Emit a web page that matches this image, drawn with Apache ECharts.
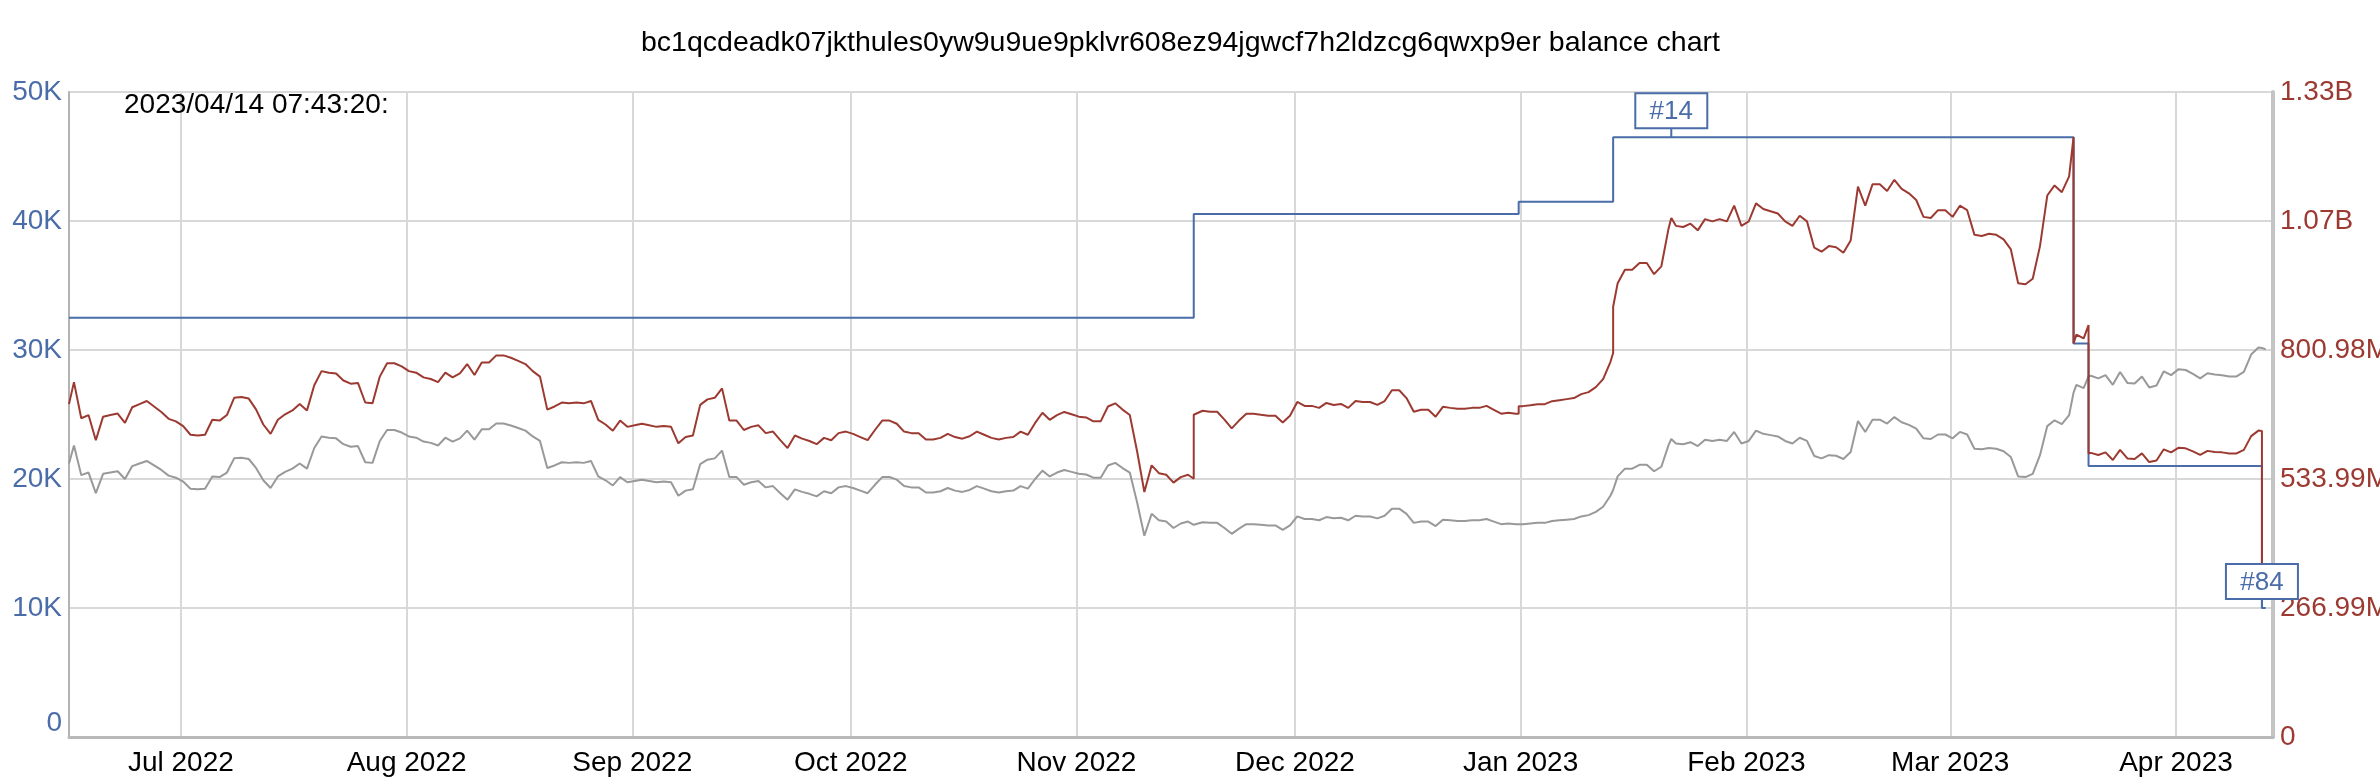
<!DOCTYPE html>
<html>
<head>
<meta charset="utf-8">
<script src="https://cdn.jsdelivr.net/npm/echarts@6/dist/echarts.min.js"></script>
<style>
html,body{margin:0;padding:0;background:#fff;overflow:hidden;}
#chart{width:2380px;height:778px;}
</style>
</head>
<body>
<div id="chart"></div>
<script>
// ---------------- DATA ----------------
const TITLE = 'bc1qcdeadk07jkthules0yw9u9ue9pklvr608ez94jgwcf7h2ldzcg6qwxp9er balance chart';
const STAMP = '2023/04/14 07:43:20:';
const MONTHS = ['Jan','Feb','Mar','Apr','May','Jun','Jul','Aug','Sep','Oct','Nov','Dec'];
const AXIS_MIN = '2022-06-15 15:20';
const AXIS_MAX = '2023-04-14 07:43:20';
const FIRST_DAY = '2022-06-16 07:43:20';   // daily samples start here, one per day

// left axis (balance / price, thousands)
const leftTicks = [0, 10, 20, 30, 40, 50];
// right axis (USD value, millions)
const rightTicks = [0, 266.993, 533.986, 800.979, 1067.972, 1334.965];

// BTC price, K USD, daily 2022-06-16 .. 2023-04-13 (grey line)
const priceDays = [
  22.6,20.3,20.5,18.9,20.4,20.5,20.6,20.0,21.0,21.2,21.4,21.05,20.7,20.26,20.1,
  19.8,19.25,19.2,19.25,20.2,20.15,20.5,21.6,21.65,21.55,20.86,19.9,19.3,20.2,20.55,20.8,21.2,20.8,22.4,23.3,23.2,23.15,22.7,22.5,22.55,21.3,21.25,22.95,23.8,23.8,23.6,
  23.3,23.2,22.9,22.8,22.6,23.2,22.9,23.15,23.75,23.05,23.85,23.85,24.3,24.3,24.15,23.95,23.75,23.3,22.95,20.85,21.05,21.3,21.25,21.3,21.25,21.4,20.2,19.9,19.5,20.15,19.75,
  19.85,19.95,19.85,19.75,19.8,19.75,18.7,19.1,19.2,21.15,21.5,21.6,22.2,20.15,20.15,19.55,19.75,19.85,19.35,19.45,18.9,18.4,19.2,19.0,18.85,18.65,19.05,18.9,19.35,19.45,
  19.3,19.1,18.9,19.55,20.15,20.15,19.95,19.45,19.35,19.35,18.95,18.95,19.05,19.3,19.1,19.0,19.15,19.45,19.25,19.05,18.95,19.05,19.1,19.45,19.25,20.0,20.65,20.2,20.5,20.7,20.55,
  20.4,20.35,20.1,20.1,21.05,21.25,20.85,20.5,18.2,15.6,17.3,16.8,16.7,16.2,16.55,16.7,16.4,16.65,16.6,16.6,16.2,15.75,16.15,16.5,16.5,16.45,16.4,16.4,16.05,16.4,
  17.1,16.9,16.9,16.8,17.05,16.95,17.0,16.8,17.15,17.1,17.1,16.95,17.15,17.7,17.7,17.3,16.6,16.7,16.7,16.35,16.85,16.8,16.75,16.75,16.8,16.8,16.9,16.7,16.5,16.55,16.5,
  16.5,16.55,16.6,16.6,16.75,16.8,16.85,16.9,17.1,17.2,17.45,17.85,18.7,20.2,20.8,20.8,21.1,21.1,20.6,20.95,22.65,22.75,22.7,22.85,22.55,23.05,22.95,23.05,22.95,23.65,22.75,
  22.95,23.75,23.5,23.4,23.3,22.95,22.75,23.2,22.95,21.78,21.6,21.85,21.8,21.55,22.1,24.5,23.65,24.6,24.6,24.3,24.8,24.4,24.2,23.9,23.15,23.1,23.45,23.45,
  23.15,23.65,23.45,22.35,22.3,22.4,22.35,22.15,21.7,20.2,20.15,20.4,21.85,24.1,24.55,24.25,24.95,27.3,27.05,28.0,27.8,28.05,27.3,28.3,27.45,27.4,27.95,27.1,27.25,28.35,28.05,
  28.5,28.45,28.15,27.8,28.2,28.1,28.05,27.95,27.95,28.3,29.65,30.2,30.05
];

// USD value of the balance, M USD, daily 2022-06-16 .. 2023-04-13 (red line)
const valueDays = [
  734.5,659.8,666.3,614.3,663.0,666.3,669.5,650.0,682.5,689.0,695.5,684.1,672.8,658.5,653.3,
  643.5,625.6,624.0,625.6,656.5,654.9,666.3,702.0,703.6,700.4,678.0,646.8,627.3,656.5,667.9,676.0,689.0,676.0,728.0,757.3,754.0,752.4,737.8,731.3,732.9,692.3,690.6,745.9,773.5,773.5,767.0,
  757.3,754.0,744.3,741.0,734.5,754.0,744.3,752.4,771.9,749.1,775.1,775.1,789.8,789.8,784.9,778.4,771.9,757.3,745.9,677.6,684.1,692.3,690.6,692.3,690.6,695.5,656.5,646.8,633.8,654.9,641.9,
  645.1,648.4,645.1,641.9,643.5,641.9,607.8,620.8,624.0,687.4,698.8,702.0,721.5,654.9,654.9,635.4,641.9,645.1,628.9,632.1,614.3,598.0,624.0,617.5,612.6,606.1,619.1,614.3,628.9,632.1,
  627.3,620.8,614.3,635.4,654.9,654.9,648.4,632.1,628.9,628.9,615.9,615.9,619.1,627.3,620.8,617.5,622.4,632.1,625.6,619.1,615.9,619.1,620.8,632.1,625.6,650.0,671.1,656.5,666.3,672.8,667.9,
  663.0,661.4,653.3,653.3,684.1,690.6,677.6,666.3,591.5,507.0,562.3,546.0,542.8,526.5,537.9,542.8,665.0,675.2,673.1,673.1,656.9,638.7,654.9,669.1,669.1,667.0,665.0,665.0,650.8,665.0,
  693.4,685.3,685.3,681.2,691.4,687.3,689.4,681.2,695.4,693.4,693.4,687.3,695.4,717.7,717.7,701.5,673.1,677.2,677.2,663.0,683.3,681.2,679.2,679.2,681.2,681.2,685.3,677.2,669.1,671.1,669.1,
  684.8,686.8,688.9,688.9,695.1,697.2,699.3,701.4,709.7,713.8,724.2,740.8,776.1,939.3,967.2,967.2,981.2,981.2,957.9,974.2,1053.2,1057.9,1055.6,1062.5,1048.6,1071.8,1067.2,1071.8,1067.2,1099.7,1057.9,
  1067.2,1104.4,1092.8,1088.1,1083.5,1067.2,1057.9,1078.8,1067.2,1012.8,1004.4,1016.0,1013.7,1002.1,1027.7,1139.3,1099.7,1143.9,1143.9,1130.0,1153.2,1134.6,1125.3,1111.4,1076.5,1074.2,1090.4,1090.4,
  1076.5,1099.7,1090.4,1039.3,1037.0,1041.6,1039.3,1030.0,1009.1,939.3,937.0,948.6,1016.0,1120.7,1141.6,1127.6,1160.2,832.7,825.0,588.0,583.8,589.1,573.3,594.3,576.5,575.4,587.0,569.1,572.3,595.4,589.1,
  598.5,597.5,591.2,583.8,592.2,590.1,589.1,587.0,587.0,594.3,622.7,634.2,300.5
];

// first sample
const startTime = '2022-06-15 15:20';
const startPrice = 21.2;
const startValue = 689.0;

// balance-changing transactions
const eventTimes = ['2022-11-17 02:30','2022-12-31 17:30','2023-01-13 16:50','2023-03-17 22:20','2023-03-19 23:45','2023-04-12 19:15'];
const eventPrice = [16.45, 16.5, 19.15, 26.7, 27.95, 30.15];
const eventValueBefore = [534.6, 669.1, 794.7, 1241.6, 852.5, 633.2];
const eventValueAfter  = [667.0, 684.8, 890.5, 814.4, 587.0, 301.5];

// other sample (flag #14)
const extraTimes = ['2023-01-21 16:30'];
const extraPrice = [23.1];
const extraValue = [1074.2];

// balance (K BTC), step line (blue)
const balanceTimes = ['2022-06-15 15:20','2022-11-17 02:30','2022-12-31 17:30','2023-01-13 16:50','2023-03-17 22:20','2023-03-19 23:45','2023-04-12 19:15','2023-04-13 07:43:20'];
const balanceValues = [32.5, 40.55, 41.5, 46.5, 30.5, 21.0, 10.0, 10.0];

// flags
const flagTimes = ['2023-01-21 16:30','2023-04-12 19:15'];
const flagBalance = [46.5, 10.0];
const flagTexts = ['#14','#84'];

// ---------------- STYLE ----------------
const BLUE = '#4a6ca8';
const RED = '#9c3a32';
const GREY = '#999999';
const FONT = '"Liberation Sans", Arial, Helvetica, sans-serif';

function t(s) {
  const parts = s.split(' ');
  const d = parts[0].split('-').map(Number);
  const tm = (parts[1] || '00:00').split(':').map(Number);
  return new Date(d[0], d[1] - 1, d[2], tm[0], tm[1], tm[2] || 0).getTime();
}
const first = new Date(t(FIRST_DAY));
const dayTimes = priceDays.map((_, i) => {
  const d = new Date(first.getTime());
  d.setDate(d.getDate() + i);
  return d.getTime();
});

const byTime = (a, b) => a[0] - b[0];

const priceData = [[t(startTime), startPrice]]
  .concat(dayTimes.map((tt, i) => [tt, priceDays[i]]))
  .concat(eventTimes.map((s, i) => [t(s), eventPrice[i]]))
  .concat(extraTimes.map((s, i) => [t(s), extraPrice[i]]))
  .sort(byTime);

const valuePts = [[t(startTime), startValue]]
  .concat(dayTimes.map((tt, i) => [tt, valueDays[i]]))
  .concat(extraTimes.map((s, i) => [t(s), extraValue[i]]));
eventTimes.forEach((s, i) => {
  valuePts.push([t(s), eventValueBefore[i]]);
  valuePts.push([t(s), eventValueAfter[i]]);
});
const valueData = valuePts.sort(byTime);

const balanceData = balanceTimes.map((s, i) => [t(s), balanceValues[i]]);
const flagData = flagTimes.map((s, i) => [t(s), flagBalance[i]]);

const chart = echarts.init(document.getElementById('chart'), null, {renderer: 'canvas'});

chart.setOption({
  animation: false,
  backgroundColor: '#ffffff',
  title: {
    text: TITLE,
    left: 636,
    top: 24,
    textStyle: {fontFamily: FONT, fontSize: 28.5, fontWeight: 'normal', color: '#000'}
  },
  graphic: [{
    type: 'text', left: 124, top: 91, z: 10,
    style: {text: STAMP, font: '28px ' + FONT, fill: '#000'}
  }],
  grid: {left: 69, right: 107, top: 92, bottom: 41, containLabel: false, outerBoundsMode: 'none'},
  xAxis: {
    type: 'time',
    min: t(AXIS_MIN),
    max: t(AXIS_MAX),
    splitNumber: 10,
    minInterval: 28 * 86400000,
    maxInterval: 31 * 86400000,
    axisLine: {show: true, lineStyle: {color: '#b9b9b9', width: 3}},
    axisTick: {show: false},
    splitLine: {show: true, lineStyle: {color: '#d8d8d8', width: 2}},
    axisLabel: {
      showMinLabel: false, showMaxLabel: false,
      margin: 12,
      color: '#000', fontFamily: FONT, fontSize: 28,
      formatter: function (v) { const d = new Date(v); return MONTHS[d.getMonth()] + ' ' + d.getFullYear(); }
    }
  },
  yAxis: [{
    type: 'value', position: 'left',
    min: leftTicks[0], max: leftTicks[leftTicks.length - 1], interval: leftTicks[1] - leftTicks[0],
    axisLine: {show: true, lineStyle: {color: '#b3b3b3', width: 2}},
    axisTick: {show: false},
    splitLine: {show: true, lineStyle: {color: '#d8d8d8', width: 2}},
    axisLabel: {
      margin: 7, color: BLUE, fontFamily: FONT, fontSize: 28,
      verticalAlignMinLabel: 'bottom',
      formatter: v => v === 0 ? '0' : v + 'K'
    }
  }, {
    type: 'value', position: 'right',
    min: rightTicks[0], max: rightTicks[rightTicks.length - 1], interval: rightTicks[1] - rightTicks[0],
    axisLine: {show: true, lineStyle: {color: '#c4c4c4', width: 4}},
    axisTick: {show: false},
    splitLine: {show: false},
    axisLabel: {
      margin: 7, color: RED, fontFamily: FONT, fontSize: 28,
      formatter: v => v < 1 ? '0' : (v >= 1000 ? (v / 1000).toFixed(2) + 'B' : v.toFixed(2) + 'M')
    }
  }],
  series: [{
    name: 'price', type: 'line', yAxisIndex: 0, z: 2,
    data: priceData, showSymbol: false, symbol: 'none',
    lineStyle: {color: GREY, width: 2}
  }, {
    name: 'balance', type: 'line', yAxisIndex: 0, z: 3, step: 'end',
    data: balanceData, showSymbol: false, symbol: 'none',
    lineStyle: {color: BLUE, width: 2}
  }, {
    name: 'value', type: 'line', yAxisIndex: 1, z: 4,
    data: valueData, showSymbol: false, symbol: 'none',
    lineStyle: {color: RED, width: 2}
  }, {
    name: 'flags', type: 'custom', yAxisIndex: 0, z: 6, clip: false,
    data: flagData,
    renderItem: function (params, api) {
      const p = api.coord([api.value(0), api.value(1)]);
      const w = 72, h = 35, gap = 9;
      return {
        type: 'group',
        children: [
          {type: 'line', shape: {x1: p[0], y1: p[1] - gap, x2: p[0], y2: p[1]}, style: {stroke: BLUE, lineWidth: 2}},
          {type: 'rect', shape: {x: p[0] - w / 2, y: p[1] - gap - h, width: w, height: h}, style: {fill: '#fff', stroke: BLUE, lineWidth: 2}},
          {type: 'text', x: p[0], y: p[1] - gap - h / 2 + 1,
           style: {text: flagTexts[params.dataIndex], fill: BLUE, font: '26px ' + FONT, align: 'center', verticalAlign: 'middle'}}
        ]
      };
    }
  }]
});
</script>
</body>
</html>
